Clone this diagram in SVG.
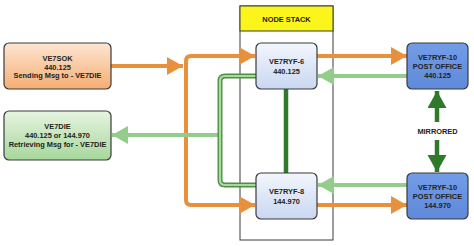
<svg xmlns="http://www.w3.org/2000/svg" width="474" height="246" viewBox="0 0 474 246">
<defs>
<linearGradient id="gOr" x1="0" y1="0" x2="0" y2="1"><stop offset="0" stop-color="#fde6d2"/><stop offset="1" stop-color="#f5ad72"/></linearGradient>
<linearGradient id="gGr" x1="0" y1="0" x2="0" y2="1"><stop offset="0" stop-color="#e6f4e0"/><stop offset="1" stop-color="#a6d79c"/></linearGradient>
<linearGradient id="gLb" x1="0" y1="0" x2="0" y2="1"><stop offset="0" stop-color="#f3f6fd"/><stop offset="1" stop-color="#c9d7f1"/></linearGradient>
<linearGradient id="gBl" x1="0" y1="0" x2="0" y2="1"><stop offset="0" stop-color="#739ce8"/><stop offset="1" stop-color="#5f8ad9"/></linearGradient>
<marker id="aOr" markerUnits="userSpaceOnUse" markerWidth="17" markerHeight="19" refX="16" refY="9" orient="auto"><path d="M0,0 L16,9 L0,18 Z" fill="#e8913d"/></marker>
<marker id="aLg" markerUnits="userSpaceOnUse" markerWidth="17" markerHeight="19" refX="16" refY="9" orient="auto"><path d="M0,0 L16,9 L0,18 Z" fill="#93cc8b"/></marker>
<marker id="aDg" markerUnits="userSpaceOnUse" markerWidth="18" markerHeight="20" refX="17" refY="9.5" orient="auto"><path d="M0,0 L17,9.5 L0,19 Z" fill="#2e7a2a"/></marker>
</defs>
<style>
.box{stroke:#3a3a3a;stroke-width:1.2}
.t{font-family:"Liberation Sans",Arial,sans-serif;font-weight:bold;font-size:7.4px;fill:#222;text-anchor:middle}
.or{fill:none;stroke:#e8913d;stroke-width:4}
.lg{fill:none;stroke:#93cc8b;stroke-width:4}
.dg{fill:none;stroke:#2e7a2a;stroke-width:4.5}
</style>
<g id="node-stack">
<rect x="240" y="6" width="93" height="234" fill="#fff" stroke="#3a3a3a" stroke-width="1"/>
<rect x="240" y="6" width="93" height="25" fill="#fbf51c" stroke="#3a3a3a" stroke-width="1"/>
<text class="t" x="286.5" y="21.5">NODE STACK</text>
</g>
<g id="connectors">
<path class="or" d="M111,66 L183,66" marker-end="url(#aOr)"/>
<path class="or" d="M186,120 L186,61 Q186,56 191,56 L255,56" marker-end="url(#aOr)"/>
<path class="or" d="M186,110 L186,200 Q186,205 191,205 L255,205" marker-end="url(#aOr)"/>
<path class="or" d="M317,56 L407,56" marker-end="url(#aOr)"/>
<path class="or" d="M317,205 L407,205" marker-end="url(#aOr)"/>
<path class="lg" d="M407,76 L318,76" marker-end="url(#aLg)"/>
<path class="lg" d="M407,185 L318,185" marker-end="url(#aLg)"/>
<path class="lg" d="M220,135 L112,135" marker-end="url(#aLg)"/>
<path d="M256,76 L225,76 Q220,76 220,81 L220,180 Q220,185 225,185 L256,185" fill="none" stroke="#4f8f45" stroke-width="5"/>
<path d="M256,76 L225,76 Q220,76 220,81 L220,180 Q220,185 225,185 L256,185" fill="none" stroke="#aad9a0" stroke-width="2.2"/>
<path class="dg" d="M286,89 L286,173"/>
<path class="dg" d="M437,122 L437,91" marker-end="url(#aDg)"/>
<path class="dg" d="M437,140 L437,172" marker-end="url(#aDg)"/>
<text class="t" x="437.5" y="134">MIRRORED</text>
</g>
<g id="ve7sok">
<rect class="box" x="4" y="43" width="107" height="46" rx="5" fill="url(#gOr)"/>
<text class="t" x="57.5" y="61">VE7SOK</text>
<text class="t" x="57.5" y="69.5">440.125</text>
<text class="t" x="57.5" y="78">Sending Msg to - VE7DIE</text>
</g>
<g id="ve7die">
<rect class="box" x="4" y="111" width="107" height="49" rx="5" fill="url(#gGr)"/>
<text class="t" x="57.5" y="129">VE7DIE</text>
<text class="t" x="57.5" y="138">440.125 or 144.970</text>
<text class="t" x="57.5" y="147">Retrieving Msg for - VE7DIE</text>
</g>
<g id="ve7ryf-6">
<rect class="box" x="256" y="43" width="61" height="46" rx="5" fill="url(#gLb)"/>
<text class="t" x="286.5" y="64">VE7RYF-6</text>
<text class="t" x="286.5" y="73.5">440.125</text>
</g>
<g id="ve7ryf-8">
<rect class="box" x="256" y="173" width="61" height="46" rx="5" fill="url(#gLb)"/>
<text class="t" x="286.5" y="194">VE7RYF-8</text>
<text class="t" x="286.5" y="203.5">144.970</text>
</g>
<g id="po-440">
<rect class="box" x="407" y="43" width="61" height="46" rx="5" fill="url(#gBl)"/>
<text class="t" x="437.5" y="59.5">VE7RYF-10</text>
<text class="t" x="437.5" y="68.5">POST OFFICE</text>
<text class="t" x="437.5" y="77.5">440.125</text>
</g>
<g id="po-144">
<rect class="box" x="407" y="173" width="61" height="46" rx="5" fill="url(#gBl)"/>
<text class="t" x="437.5" y="189.5">VE7RYF-10</text>
<text class="t" x="437.5" y="198.5">POST OFFICE</text>
<text class="t" x="437.5" y="207.5">144.970</text>
</g>
</svg>
